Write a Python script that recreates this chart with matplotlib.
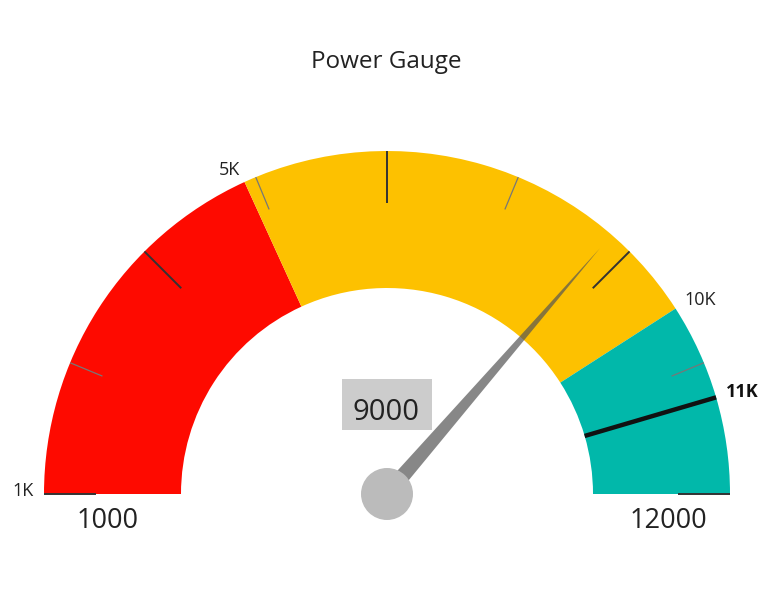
import numpy as np
import matplotlib.pyplot as plt
from matplotlib.patches import Wedge, Circle, Polygon, Rectangle

# gauge data
min_val = 1000
max_val = 12000
value = 9000
target = 11000
band_edges = [1000, 5000, 10000, 12000]
band_colors = ['#FE0A00', '#FDC100', '#01B8AA']
label_vals = [1000, 5000, 10000]
label_texts = ['1K', '5K', '10K']

plt.rcParams['font.family'] = ['Open Sans', 'DejaVu Sans']

fig = plt.figure(figsize=(7.68, 6.01), dpi=100)
ax = fig.add_axes([0, 0, 1, 1])
ax.set_xlim(0, 768)
ax.set_ylim(0, 601)
ax.set_aspect('equal')
ax.axis('off')

H = 601
cx, cy = 387, H - 494
r_out, r_in = 343, 206


def ang(v):
    # degrees from +x axis, 180 at min, 0 at max
    return 180 - 180 * (v - min_val) / (max_val - min_val)


def pt(a, r):
    t = np.radians(a)
    return cx + r * np.cos(t), cy + r * np.sin(t)


# colored bands
for lo, hi, c in zip(band_edges[:-1], band_edges[1:], band_colors):
    ax.add_patch(Wedge((cx, cy), r_out, ang(hi), ang(lo), width=r_out - r_in,
                       facecolor=c, edgecolor='none'))

# ticks every 22.5 degrees, majors every 45
for i in range(9):
    a = 180 - i * 22.5
    if i % 2 == 0:
        x0, y0 = pt(a, r_out)
        x1, y1 = pt(a, r_out - 52)
        ax.plot([x0, x1], [y0, y1], color='#333333', lw=1.4, solid_capstyle='butt')
    else:
        x0, y0 = pt(a, r_out)
        x1, y1 = pt(a, r_out - 35)
        ax.plot([x0, x1], [y0, y1], color='#777777', lw=0.9, solid_capstyle='butt')

# target marker
x0, y0 = pt(ang(target), r_in)
x1, y1 = pt(ang(target), r_out)
ax.plot([x0, x1], [y0, y1], color='#111111', lw=3.2, solid_capstyle='butt', zorder=4)


def arc_label(v, t, **kw):
    a = ang(v)
    x, y = pt(a, r_out + 10)
    ha = 'right' if a > 90 else 'left'
    ax.text(x, y - 2, t, ha=ha, va='baseline', fontsize=13, **kw)


# labels around the arc
for v, t in zip(label_vals, label_texts):
    arc_label(v, t, color='#222222')
arc_label(target, '11K', fontweight='bold', color='#111111')

# min / max labels
ax.text(107.5, H - 528, f'{min_val}', ha='center', va='baseline', fontsize=19.5, color='#222222')
ax.text(668, H - 528, f'{max_val}', ha='center', va='baseline', fontsize=19.5, color='#222222')

# needle
a = np.radians(ang(value))
tip = (cx + 325 * np.cos(a), cy + 325 * np.sin(a))
perp = np.array([-np.sin(a), np.cos(a)]) * 8
needle = Polygon([(cx + perp[0], cy + perp[1]), tip, (cx - perp[0], cy - perp[1])],
                 closed=True, facecolor='#555555', edgecolor='none', alpha=0.7, zorder=5)
ax.add_patch(needle)
ax.add_patch(Circle((cx, cy), 26, facecolor='#BBBBBB', edgecolor='none', zorder=6))

# value box
ax.add_patch(Rectangle((342, H - 430), 90, 51, facecolor='#CCCCCC', edgecolor='none', zorder=7))
ax.text(386.5, H - 420, f'{value}', ha='center', va='baseline', fontsize=21, color='#222222', zorder=8)

# title
ax.text(386.5, H - 68, 'Power Gauge', ha='center', va='baseline', fontsize=17.5, color='#222222')

fig.savefig('out.png', dpi=100)
